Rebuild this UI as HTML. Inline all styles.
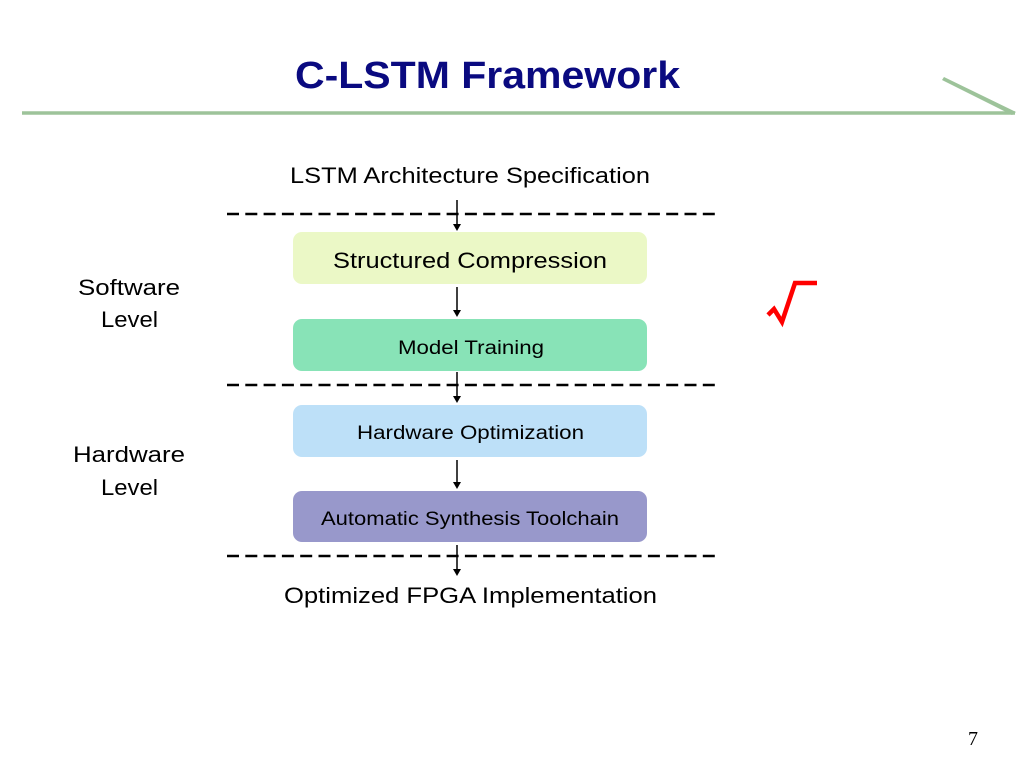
<!DOCTYPE html>
<html><head><meta charset="utf-8"><style>html,body{margin:0;padding:0;background:#fff;}svg{display:block}</style></head>
<body>
<svg width="1024" height="768" viewBox="0 0 1024 768" xmlns="http://www.w3.org/2000/svg" font-family="Liberation Sans, sans-serif">
<text x="295" y="88" font-size="38" font-weight="bold" fill="#0A0A80" textLength="385" lengthAdjust="spacingAndGlyphs">C-LSTM Framework</text>
<line x1="22" y1="113" x2="1015" y2="113" stroke="#9DC39A" stroke-width="3.5"/>
<polygon points="944,77 1016,112 1012,115 942,80" fill="#9DC39A"/>
<text x="290" y="183" font-size="22" textLength="360" lengthAdjust="spacingAndGlyphs">LSTM Architecture Specification</text>
<g stroke="#000" stroke-width="2.5" stroke-dasharray="12 6.3">
<line x1="227" y1="214" x2="715" y2="214"/><line x1="227" y1="385" x2="715" y2="385"/><line x1="227" y1="556" x2="715" y2="556"/></g>
<rect x="293" y="232" width="354" height="52" rx="9" fill="#EBF8C6"/>
<rect x="293" y="319" width="354" height="52" rx="9" fill="#88E3B7"/>
<rect x="293" y="405" width="354" height="52" rx="9" fill="#BDE0F8"/>
<rect x="293" y="491" width="354" height="51" rx="9" fill="#9898CB"/>
<g stroke="#000" stroke-width="1.5">
<line x1="457" y1="200" x2="457" y2="226"/><line x1="457" y1="287" x2="457" y2="312"/><line x1="457" y1="372" x2="457" y2="398"/><line x1="457" y1="460" x2="457" y2="484"/><line x1="457" y1="545" x2="457" y2="571"/></g>
<g fill="#000">
<polygon points="453,224 461,224 457,231"/><polygon points="453,310 461,310 457,317"/><polygon points="453,396 461,396 457,403"/><polygon points="453,482 461,482 457,489"/><polygon points="453,569 461,569 457,576"/></g>
<text x="333" y="268" font-size="22" textLength="274" lengthAdjust="spacingAndGlyphs">Structured Compression</text>
<text x="398" y="354" font-size="19" textLength="146" lengthAdjust="spacingAndGlyphs">Model Training</text>
<text x="357" y="439" font-size="19" textLength="227" lengthAdjust="spacingAndGlyphs">Hardware Optimization</text>
<text x="321" y="525" font-size="19" textLength="298" lengthAdjust="spacingAndGlyphs">Automatic Synthesis Toolchain</text>
<text x="284" y="603" font-size="22" textLength="373" lengthAdjust="spacingAndGlyphs">Optimized FPGA Implementation</text>
<text x="78" y="295" font-size="22" textLength="102" lengthAdjust="spacingAndGlyphs">Software</text>
<text x="101" y="327" font-size="22" textLength="57" lengthAdjust="spacingAndGlyphs">Level</text>
<text x="73" y="462" font-size="22" textLength="112" lengthAdjust="spacingAndGlyphs">Hardware</text>
<text x="101" y="495" font-size="22" textLength="57" lengthAdjust="spacingAndGlyphs">Level</text>
<path d="M768,315 L774,309 L782,322 L795,283 L817,283" fill="none" stroke="#F00" stroke-width="4.5" stroke-linejoin="miter"/>
<text x="968" y="745" font-size="20" font-family="Liberation Serif, serif">7</text>
</svg>
</body></html>
